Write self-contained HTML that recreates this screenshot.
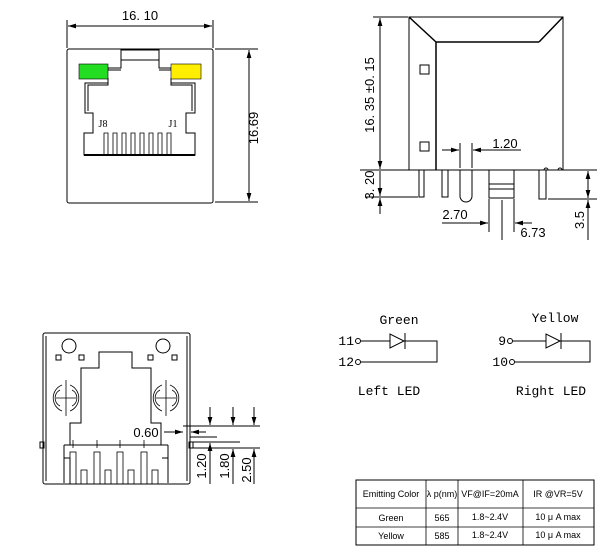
<!DOCTYPE html>
<html><head><style>
html,body{margin:0;padding:0;background:#fff;}
svg{display:block;font-family:"Liberation Sans",sans-serif;}
.m{font-family:"Liberation Mono","DejaVu Sans Mono",monospace;}
</style></head><body>
<svg width="614" height="559" viewBox="0 0 614 559" xmlns="http://www.w3.org/2000/svg">
<defs>
<marker id="a" viewBox="0 0 10 6" refX="10" refY="3" markerWidth="8" markerHeight="5" orient="auto-start-reverse"><path d="M0,0L10,3L0,6z" fill="#000"/></marker>
</defs>
<g fill="none" stroke="#000" stroke-width="1">
<rect x="67" y="49" width="146" height="154" rx="2"/>
<line x1="67" y1="20" x2="67" y2="48"/><line x1="213" y1="20" x2="213" y2="48"/>
<line x1="68" y1="26" x2="212" y2="26" marker-start="url(#a)" marker-end="url(#a)"/>
<line x1="215" y1="49" x2="258" y2="49"/><line x1="215" y1="202" x2="258" y2="202"/>
<line x1="249" y1="50" x2="249" y2="201" marker-start="url(#a)" marker-end="url(#a)"/>
<rect x="121" y="50" width="38" height="10"/>
<path d="M121,60V68H108V70H121M159,60V68H171V70H159"/>
<path d="M108,78V83H85V113H93V133H84V155H195V133H186V113H195V83H171V78"/>
<path d="M108,81V85H88V111"/><path d="M171,81V85H192V111"/>
<line x1="84" y1="155" x2="195" y2="155" stroke-width="2"/>
<g stroke-width="0.8">
<path d="M104,155V133H108V155M113,155V133H117V155M122,155V133H126V155M131,155V133H135V155M140,155V133H144V155M149,155V133H153V155M158,155V133H162V155M167,155V133H171V155"/>
</g>
<path d="M409,17H563V170H409Z"/>
<path d="M436,170V42H539M409,17L436,42M563,17L539,42" stroke-width="1.5"/>
<rect x="420" y="65" width="9" height="9"/><rect x="420" y="142" width="9" height="9"/>
<line x1="373" y1="17" x2="408" y2="17"/>
<line x1="360" y1="170" x2="409" y2="170"/><line x1="563" y1="170" x2="597" y2="170"/>
<line x1="380" y1="18" x2="380" y2="169" marker-start="url(#a)" marker-end="url(#a)"/>
<line x1="365" y1="197" x2="418" y2="197"/>
<line x1="380" y1="171" x2="380" y2="196" marker-end="url(#a)"/>
<line x1="380" y1="198" x2="380" y2="214" marker-start="url(#a)"/>
<rect x="419" y="170" width="5" height="27"/>
<rect x="442" y="170" width="6" height="27"/>
<path d="M460,170V196A6,6 0 0 0 472,196V170"/>
<rect x="489" y="170" width="25" height="28"/>
<line x1="489" y1="184" x2="514" y2="184"/><line x1="489" y1="189" x2="514" y2="189"/>
<rect x="539" y="170" width="7" height="29"/>
<path d="M544,170a2,2 0 0 1 4,0M558,170a2,2 0 0 1 4,0"/>
<line x1="460" y1="143" x2="460" y2="168"/><line x1="472" y1="143" x2="472" y2="168"/>
<line x1="442" y1="150" x2="459" y2="150" marker-end="url(#a)"/>
<line x1="521" y1="150" x2="473" y2="150" marker-end="url(#a)"/>
<line x1="442" y1="223" x2="488" y2="223" marker-end="url(#a)"/>
<line x1="532" y1="223" x2="515" y2="223" marker-end="url(#a)"/>
<line x1="489" y1="199" x2="489" y2="232"/><line x1="514" y1="199" x2="514" y2="232"/>
<line x1="502" y1="200" x2="502" y2="240"/>
<line x1="548" y1="199" x2="597" y2="199"/>
<line x1="588" y1="171" x2="588" y2="198" marker-start="url(#a)" marker-end="url(#a)"/>
<line x1="588" y1="200" x2="588" y2="240" marker-start="url(#a)"/>
<rect x="43" y="333" width="147" height="151" rx="2"/>
<path d="M46,336V481M187,336V481"/>
<circle cx="69" cy="346" r="7"/><circle cx="163" cy="346" r="7"/>
<rect x="56" y="355" width="5" height="5"/><rect x="79" y="355" width="5" height="5"/><rect x="148" y="355" width="5" height="5"/><rect x="172" y="355" width="5" height="5"/>
<path d="M70,445V423H81V368H99V352H132V368H151V423H161V445"/>
<g stroke-width="0.8">
<path d="M62,385A14,14 0 0 0 62,411M60,390A9,9 0 0 0 60,406M70,385A14,14 0 0 1 70,411M72,390A9,9 0 0 1 72,406M66,380V416M56,398H76"/>
<path d="M162,385A14,14 0 0 0 162,411M160,390A9,9 0 0 0 160,406M170,385A14,14 0 0 1 170,411M172,390A9,9 0 0 1 172,406M166,380V416M156,398H176"/>
</g>
<path d="M64,483V458H70V484M168,483V458H162"/>
<line x1="64" y1="445" x2="168" y2="445"/><line x1="64" y1="445" x2="64" y2="458"/><line x1="168" y1="445" x2="168" y2="458"/>
<g stroke-width="0.8">
<rect x="70" y="452" width="6" height="32"/><rect x="94" y="452" width="6" height="32"/><rect x="117" y="452" width="6" height="32"/><rect x="141" y="452" width="6" height="32"/>
<rect x="81" y="470" width="6" height="14"/><rect x="105" y="470" width="6" height="14"/><rect x="128" y="470" width="6" height="14"/><rect x="152" y="470" width="6" height="14"/>
<path d="M73,440V448M97,440V448M120,440V448M144,440V448"/>
</g>
<rect x="40" y="442" width="4" height="6"/><rect x="189" y="442" width="4" height="6"/>
<line x1="183" y1="426" x2="260" y2="426"/><line x1="190" y1="437" x2="217" y2="437"/>
<line x1="190" y1="442" x2="240" y2="442"/><line x1="190" y1="448" x2="260" y2="448"/>
<line x1="164" y1="432" x2="183" y2="432" marker-end="url(#a)"/>
<line x1="206" y1="432" x2="191" y2="432" marker-end="url(#a)"/>
<line x1="210" y1="407" x2="210" y2="425" marker-end="url(#a)"/><line x1="210" y1="443" x2="210" y2="484" marker-start="url(#a)"/>
<line x1="233" y1="407" x2="233" y2="425" marker-end="url(#a)"/><line x1="233" y1="449" x2="233" y2="484" marker-start="url(#a)"/>
<line x1="254" y1="407" x2="254" y2="425" marker-end="url(#a)"/><line x1="254" y1="449" x2="254" y2="484" marker-start="url(#a)"/>
<circle cx="358" cy="341" r="2.5"/><circle cx="358" cy="362" r="2.5"/>
<path d="M361,341H437V362H361"/>
<path d="M390,334V348L404,341Z" fill="#fff"/><line x1="405" y1="333" x2="405" y2="349"/>
<circle cx="510" cy="341" r="2.5"/><circle cx="512" cy="362" r="2.5"/>
<path d="M513,341H590V362H515"/>
<path d="M546,334V348L560,341Z" fill="#fff"/><line x1="561" y1="333" x2="561" y2="349"/>
<rect x="356" y="480" width="238" height="65"/>
<path d="M356,508H594M356,527H594M426,480V545M458,480V545M523,480V545" stroke-width="0.8"/>
</g>
<rect x="79" y="64" width="29" height="15" fill="#22dd22" stroke="#000" stroke-width="0.6"/>
<rect x="171" y="64" width="30" height="15" fill="#ffee00" stroke="#000" stroke-width="0.6"/>
<g font-size="13" fill="#000">
<text x="140" y="20" text-anchor="middle">16. 10</text>
<text transform="translate(258,128) rotate(-90)" text-anchor="middle">16.69</text>
<text transform="translate(374,95) rotate(-90)" text-anchor="middle">16. 35  ±0. 15</text>
<text transform="translate(374,185) rotate(-90)" text-anchor="middle">3. 20</text>
<text x="505" y="148" text-anchor="middle">1.20</text>
<text x="455" y="219" text-anchor="middle">2.70</text>
<text x="533" y="237" text-anchor="middle">6.73</text>
<text transform="translate(584,220) rotate(-90)" text-anchor="middle">3.5</text>
<text x="146" y="437" text-anchor="middle">0.60</text>
<text transform="translate(206,466) rotate(-90)" text-anchor="middle">1.20</text>
<text transform="translate(229,466) rotate(-90)" text-anchor="middle">1.80</text>
<text transform="translate(251,470) rotate(-90)" text-anchor="middle">2.50</text>
</g>
<g font-family="Liberation Serif,serif" font-size="10">
<text x="103" y="127" text-anchor="middle">J8</text><text x="173" y="127" text-anchor="middle">J1</text>
</g>
<g class="m" font-size="13" fill="#000">
<text x="399" y="324" text-anchor="middle">Green</text>
<text x="555" y="322" text-anchor="middle">Yellow</text>
<text x="389" y="395" text-anchor="middle">Left LED</text>
<text x="551" y="395" text-anchor="middle">Right LED</text>
<text x="354" y="345" text-anchor="end">11</text><text x="354" y="366" text-anchor="end">12</text>
<text x="506" y="345" text-anchor="end">9</text><text x="508" y="366" text-anchor="end">10</text>
</g>
<g font-size="9" fill="#000" text-anchor="middle">
<text x="391" y="497">Emitting Color</text><text x="442" y="497">λ p(nm)</text><text x="490" y="497">VF@IF=20mA</text><text x="558" y="497">IR @VR=5V</text>
<text x="391" y="521">Green</text><text x="442" y="521">565</text><text x="490" y="520">1.8~2.4V</text><text x="558" y="520">10 μ A max</text>
<text x="391" y="539">Yellow</text><text x="442" y="539">585</text><text x="490" y="538">1.8~2.4V</text><text x="558" y="538">10 μ A max</text>
</g>
</svg>
</body></html>
